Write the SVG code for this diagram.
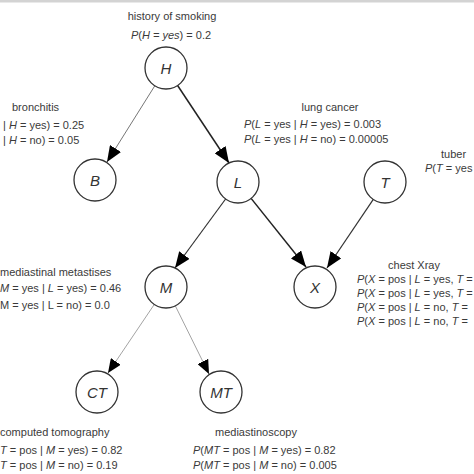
<svg xmlns="http://www.w3.org/2000/svg" width="474" height="474" viewBox="0 0 474 474">
<style>
.t{font-family:"Liberation Sans",Arial,sans-serif;font-size:11px;fill:#3a3a3a}
.i{font-style:italic}
.m{text-anchor:middle}
.node circle{fill:#fff;stroke:#333;stroke-width:1.3}
.node text{font-family:"Liberation Sans",Arial,sans-serif;font-size:15px;font-style:italic;fill:#333;text-anchor:middle}
.thick{stroke:#222;stroke-width:1.5;fill:none}
.med{stroke:#333;stroke-width:1.2;fill:none}
.thin{stroke:#666;stroke-width:0.9;fill:none}
.thin2{stroke:#999;stroke-width:0.9;fill:none}
</style>
<defs>
<marker id="ah" markerUnits="userSpaceOnUse" markerWidth="16" markerHeight="13" refX="16" refY="6.5" orient="auto">
<path d="M0,0 L16,6.5 L0,13 z" fill="#000"/>
</marker>
<marker id="ahs" markerUnits="userSpaceOnUse" markerWidth="14" markerHeight="12" refX="14" refY="6" orient="auto">
<path d="M0,0 L14,6 L0,12 z" fill="#000"/>
</marker>
</defs>
<rect x="0" y="0" width="474" height="2.5" fill="#d3d3d3"/>
<g id="connectors">
<line class="thin" x1="154.8" y1="85.8" x2="107" y2="162" marker-end="url(#ah)"/>
<line class="thick" x1="177.6" y1="85.5" x2="229" y2="163" marker-end="url(#ah)"/>
<line class="med" x1="225.6" y1="199" x2="175" y2="268" marker-end="url(#ah)"/>
<line class="thick" x1="251.1" y1="198.4" x2="306" y2="267" marker-end="url(#ah)"/>
<line class="med" x1="373.3" y1="199.4" x2="327" y2="268" marker-end="url(#ah)"/>
<line class="thin2" x1="154.3" y1="304.4" x2="108" y2="373" marker-end="url(#ahs)"/>
<line class="thin2" x1="175.3" y1="305.8" x2="209" y2="374" marker-end="url(#ahs)"/>
</g>
<g id="node-H" class="node"><circle cx="166" cy="68" r="21"/><text x="166" y="74">H</text></g>
<g id="node-B" class="node"><circle cx="95" cy="180" r="21"/><text x="95" y="186">B</text></g>
<g id="node-L" class="node"><circle cx="238" cy="182" r="21"/><text x="238" y="188">L</text></g>
<g id="node-T" class="node"><circle cx="385" cy="182" r="21"/><text x="385" y="188">T</text></g>
<g id="node-M" class="node"><circle cx="166" cy="287" r="21"/><text x="166" y="293">M</text></g>
<g id="node-X" class="node"><circle cx="315" cy="287" r="21"/><text x="315" y="293">X</text></g>
<g id="node-CT" class="node"><circle cx="97" cy="392" r="21"/><text x="97" y="398">CT</text></g>
<g id="node-MT" class="node"><circle cx="221" cy="392" r="21"/><text x="221" y="398">MT</text></g>
<g id="labels">
<text class="t m" x="172" y="20">history of smoking</text>
<text class="t m" x="171" y="39"><tspan class="i">P</tspan>(<tspan class="i">H = yes</tspan>) = 0.2</text>
<text class="t" x="12" y="111">bronchitis</text>
<text class="t" x="3" y="129">| <tspan class="i">H</tspan> = yes) = 0.25</text>
<text class="t" x="3" y="144">| <tspan class="i">H</tspan> = no) = 0.05</text>
<text class="t m" x="330" y="111">lung cancer</text>
<text class="t" x="244" y="128"><tspan class="i">P</tspan>(<tspan class="i">L</tspan> = yes | <tspan class="i">H</tspan> = yes) = 0.003</text>
<text class="t" x="244" y="143"><tspan class="i">P</tspan>(<tspan class="i">L</tspan> = yes | <tspan class="i">H</tspan> = no) = 0.00005</text>
<text class="t" x="441" y="158">tuber</text>
<text class="t" x="425" y="172"><tspan class="i">P</tspan>(<tspan class="i">T</tspan> = yes</text>
<text class="t" x="0" y="276">mediastinal metastises</text>
<text class="t" x="0" y="292"><tspan class="i">M</tspan> = yes | <tspan class="i">L</tspan> = yes) = 0.46</text>
<text class="t" x="0" y="309">M  = yes | L = no) = 0.0</text>
<text class="t m" x="414" y="269">chest Xray</text>
<text class="t" x="357" y="283"><tspan class="i">P</tspan>(<tspan class="i">X</tspan> = pos | <tspan class="i">L</tspan> = yes, <tspan class="i">T</tspan> =</text>
<text class="t" x="357" y="297"><tspan class="i">P</tspan>(<tspan class="i">X</tspan> = pos | <tspan class="i">L</tspan> = yes, <tspan class="i">T</tspan> =</text>
<text class="t" x="357" y="311"><tspan class="i">P</tspan>(<tspan class="i">X</tspan> = pos | <tspan class="i">L</tspan> = no, <tspan class="i">T</tspan> =</text>
<text class="t" x="357" y="325"><tspan class="i">P</tspan>(<tspan class="i">X</tspan> = pos | <tspan class="i">L</tspan> = no, <tspan class="i">T</tspan> =</text>
<text class="t" x="0" y="436">computed tomography</text>
<text class="t" x="0" y="454"><tspan class="i">T</tspan> = pos | <tspan class="i">M</tspan> = yes) = 0.82</text>
<text class="t" x="0" y="469"><tspan class="i">T</tspan> = pos | <tspan class="i">M</tspan> = no) = 0.19</text>
<text class="t m" x="256" y="436">mediastinoscopy</text>
<text class="t" x="193" y="454"><tspan class="i">P</tspan>(<tspan class="i">MT</tspan> = pos | <tspan class="i">M</tspan> = yes) = 0.82</text>
<text class="t" x="193" y="469"><tspan class="i">P</tspan>(<tspan class="i">MT</tspan> = pos | <tspan class="i">M</tspan> = no) = 0.005</text>
</g>
</svg>
